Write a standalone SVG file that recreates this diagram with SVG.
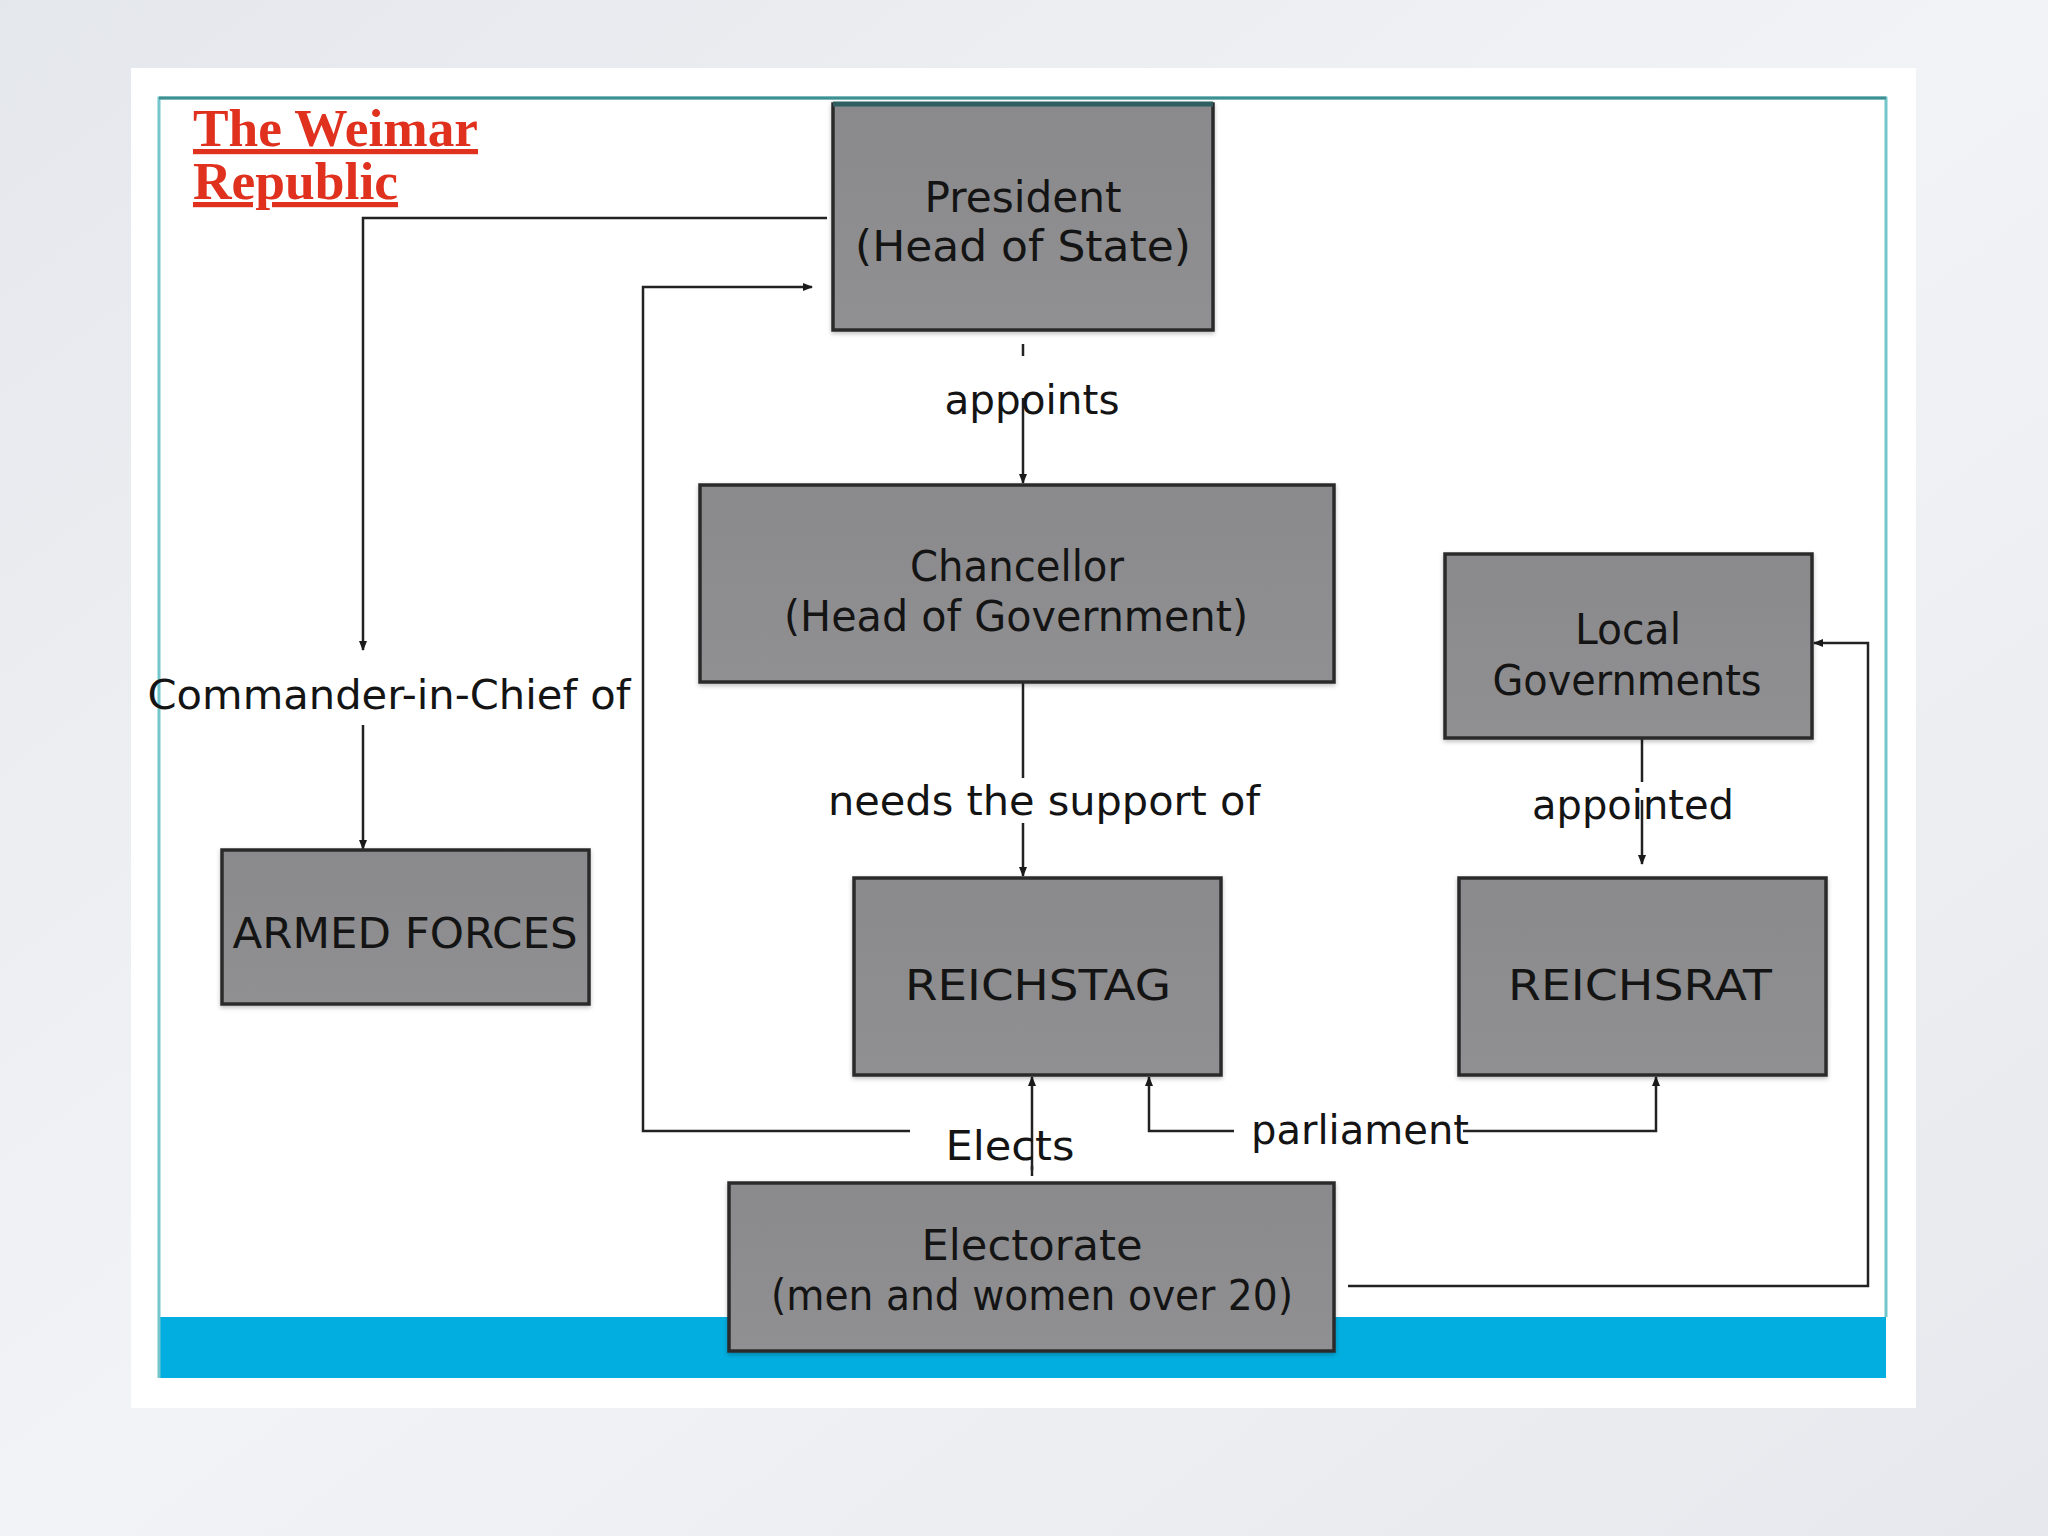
<svg xmlns="http://www.w3.org/2000/svg" width="2048" height="1536" viewBox="0 0 2048 1536">
<defs>
<linearGradient id="bg" x1="0" y1="0" x2="1" y2="1">
<stop offset="0" stop-color="#e4e7ec"/>
<stop offset="0.5" stop-color="#f2f3f6"/>
<stop offset="1" stop-color="#e6e8ed"/>
</linearGradient>
<linearGradient id="box" x1="0" y1="0" x2="0" y2="1">
<stop offset="0" stop-color="#8a8a8c"/>
<stop offset="1" stop-color="#909092"/>
</linearGradient>
<marker id="ah" viewBox="0 0 10 10" refX="9" refY="5" markerWidth="10" markerHeight="10" markerUnits="userSpaceOnUse" orient="auto">
<path d="M0,1 L10,5 L0,9 Z" fill="#1a1a1a"/>
</marker>
<filter id="sh" x="-5%" y="-5%" width="110%" height="115%">
<feDropShadow dx="0" dy="2" stdDeviation="2" flood-color="#000" flood-opacity="0.25"/>
</filter>
</defs>
<style>
.node rect{fill:url(#box);stroke:#2b2b2b;stroke-width:3.5}
.nt{font-family:"DejaVu Sans","Noto Sans",sans-serif;font-size:42px;fill:#141414;text-anchor:middle}
.lb{font-family:"DejaVu Sans","Noto Sans",sans-serif;font-size:40px;fill:#141414;text-anchor:middle}
.cn{fill:none;stroke:#222;stroke-width:2.5}
.title{font-family:"Liberation Serif","Times New Roman",serif;font-weight:bold;font-size:52px;fill:#e0301e;text-decoration:underline}
</style>
<rect x="0" y="0" width="2048" height="1536" fill="url(#bg)"/>
<rect x="131" y="68" width="1785" height="1340" fill="#ffffff"/>
<rect x="159" y="1317" width="1727" height="61" fill="#02aee0"/>
<path d="M159,1378 L159,98 L1886,98 L1886,1317" fill="none" stroke="#74c6cc" stroke-width="3"/>
<line x1="159" y1="98" x2="1886" y2="98" stroke="#3f8f92" stroke-width="3"/>
<g id="title">
<text class="title" x="193" y="146" textLength="285" lengthAdjust="spacingAndGlyphs">The Weimar</text>
<text class="title" x="193" y="199" textLength="205" lengthAdjust="spacingAndGlyphs">Republic</text>
</g>
<g id="connectors">
<polyline class="cn" points="827,218 363,218 363,650" marker-end="url(#ah)"/>
<line class="cn" x1="363" y1="725" x2="363" y2="849" marker-end="url(#ah)"/>
<polyline class="cn" points="910,1131 643,1131 643,287 812,287" marker-end="url(#ah)"/>
<line class="cn" x1="1023" y1="344" x2="1023" y2="356"/>
<line class="cn" x1="1023" y1="398" x2="1023" y2="483" marker-end="url(#ah)"/>
<line class="cn" x1="1023" y1="682" x2="1023" y2="778"/>
<line class="cn" x1="1023" y1="823" x2="1023" y2="876" marker-end="url(#ah)"/>
<line class="cn" x1="1642" y1="738" x2="1642" y2="782"/>
<line class="cn" x1="1642" y1="800" x2="1642" y2="864" marker-end="url(#ah)"/>
<line class="cn" x1="1032" y1="1170" x2="1032" y2="1077" marker-end="url(#ah)"/>
<line class="cn" x1="1032" y1="1166" x2="1032" y2="1176"/>
<polyline class="cn" points="1234,1131 1149,1131 1149,1077" marker-end="url(#ah)"/>
<polyline class="cn" points="1463,1131 1656,1131 1656,1077" marker-end="url(#ah)"/>
<polyline class="cn" points="1348,1286 1868,1286 1868,643 1814,643" marker-end="url(#ah)"/>
<text class="lb" x="1032" y="414" textLength="175" lengthAdjust="spacingAndGlyphs">appoints</text>
<text class="lb" x="389" y="709" textLength="483" lengthAdjust="spacingAndGlyphs">Commander-in-Chief of</text>
<text class="lb" x="1044" y="815" textLength="432" lengthAdjust="spacingAndGlyphs">needs the support of</text>
<text class="lb" x="1633" y="819" textLength="202" lengthAdjust="spacingAndGlyphs">appointed</text>
<text class="lb" x="1010" y="1160" textLength="129" lengthAdjust="spacingAndGlyphs">Elects</text>
<text class="lb" x="1360" y="1144" textLength="218" lengthAdjust="spacingAndGlyphs">parliament</text>
</g>
<g id="president" class="node">
<rect x="833" y="104" width="380" height="226" filter="url(#sh)"/>
<line x1="833" y1="104" x2="1213" y2="104" stroke="#2f5e60" stroke-width="5"/>
<text class="nt" x="1023" y="212" textLength="197" lengthAdjust="spacingAndGlyphs">President</text>
<text class="nt" x="1023" y="261" textLength="336" lengthAdjust="spacingAndGlyphs">(Head of State)</text>
</g>
<g id="chancellor" class="node">
<rect x="700" y="485" width="634" height="197" filter="url(#sh)"/>
<text class="nt" x="1017" y="581" textLength="214" lengthAdjust="spacingAndGlyphs">Chancellor</text>
<text class="nt" x="1016" y="631" textLength="464" lengthAdjust="spacingAndGlyphs">(Head of Government)</text>
</g>
<g id="local-governments" class="node">
<rect x="1445" y="554" width="367" height="184" filter="url(#sh)"/>
<text class="nt" x="1628" y="644" textLength="106" lengthAdjust="spacingAndGlyphs">Local</text>
<text class="nt" x="1627" y="695" textLength="269" lengthAdjust="spacingAndGlyphs">Governments</text>
</g>
<g id="armed-forces" class="node">
<rect x="222" y="850" width="367" height="154" filter="url(#sh)"/>
<text class="nt" x="405" y="948" textLength="345" lengthAdjust="spacingAndGlyphs">ARMED FORCES</text>
</g>
<g id="reichstag" class="node">
<rect x="854" y="878" width="367" height="197" filter="url(#sh)"/>
<text class="nt" x="1038" y="1000" textLength="266" lengthAdjust="spacingAndGlyphs">REICHSTAG</text>
</g>
<g id="reichsrat" class="node">
<rect x="1459" y="878" width="367" height="197" filter="url(#sh)"/>
<text class="nt" x="1640" y="1000" textLength="264" lengthAdjust="spacingAndGlyphs">REICHSRAT</text>
</g>
<g id="electorate" class="node">
<rect x="729" y="1183" width="605" height="168" filter="url(#sh)"/>
<text class="nt" x="1032" y="1260" textLength="221" lengthAdjust="spacingAndGlyphs">Electorate</text>
<text class="nt" x="1032" y="1310" textLength="522" lengthAdjust="spacingAndGlyphs">(men and women over 20)</text>
</g>
</svg>
